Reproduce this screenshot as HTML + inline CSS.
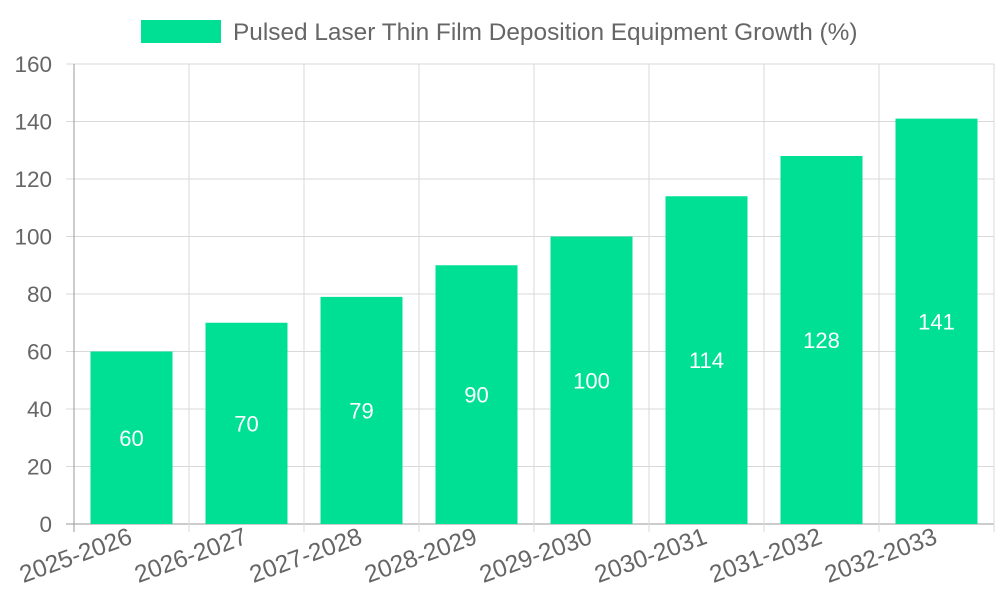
<!DOCTYPE html>
<html><head><meta charset="utf-8"><style>
body{margin:0;background:#fff;}
svg text{font-family:"Liberation Sans",sans-serif;fill:#666;}
</style></head><body>
<svg id="chart" width="1000" height="600">
<rect x="141" y="20" width="80" height="23" fill="#00e094"/>
<text x="233" y="40" font-size="24.4">Pulsed Laser Thin Film Deposition Equipment Growth (%)</text>
<g id="grid"></g><g id="bars"></g><g id="labels"></g>
</svg>
<script>
const categories=["2025-2026","2026-2027","2027-2028","2028-2029","2029-2030","2030-2031","2031-2032","2032-2033"];
const values=[60,70,79,90,100,114,128,141];
const yTicks=[0,20,40,60,80,100,120,140,160];
const NS="http://www.w3.org/2000/svg";
const L=74,R=994,T=64,B=524,yMax=160;
const band=(R-L)/categories.length;
const y=v=>B-(v/yMax)*(B-T);
const xc=i=>L+band*(i+0.5);
function mk(t,a,p){const e=document.createElementNS(NS,t);for(const k in a)e.setAttribute(k,a[k]);p.appendChild(e);return e;}
const g=document.getElementById('grid'),bg=document.getElementById('bars'),lg=document.getElementById('labels');
yTicks.forEach(v=>{
 const ln=mk('line',{x1:66,x2:R,y1:y(v),y2:y(v),stroke:v===0?'#999':'#d9d9d9','stroke-width':1},g);
 
 
 const t=mk('text',{x:52,y:y(v)+8,'text-anchor':'end','font-size':22.5},g);t.textContent=v;
 
 
});
for(let i=0;i<=categories.length;i++){
 const x=L+band*i;
 const ln=mk('line',{x1:x,x2:x,y1:T,y2:B+8,stroke:i===0?'#999':'#d9d9d9','stroke-width':1},g);
 
 
}
categories.forEach((c,i)=>{
 const w=82,v=values[i];
 const r=mk('rect',{x:xc(i)-w/2,y:y(v),width:w,height:B-y(v),fill:'#00e094'},bg);
 
 
 const vt=mk('text',{x:xc(i),y:(y(v)+B)/2+8,'text-anchor':'middle','font-size':22},lg);
 vt.style.fill='#fff';vt.textContent=v;
 
 
 const ax=xc(i)+2,ay=543;
 const t=mk('text',{x:ax,y:ay,'text-anchor':'end','font-size':24.5,transform:`rotate(-20 ${ax} ${ay})`},lg);
 t.textContent=c;
 
 
});
</script>
</body></html>
